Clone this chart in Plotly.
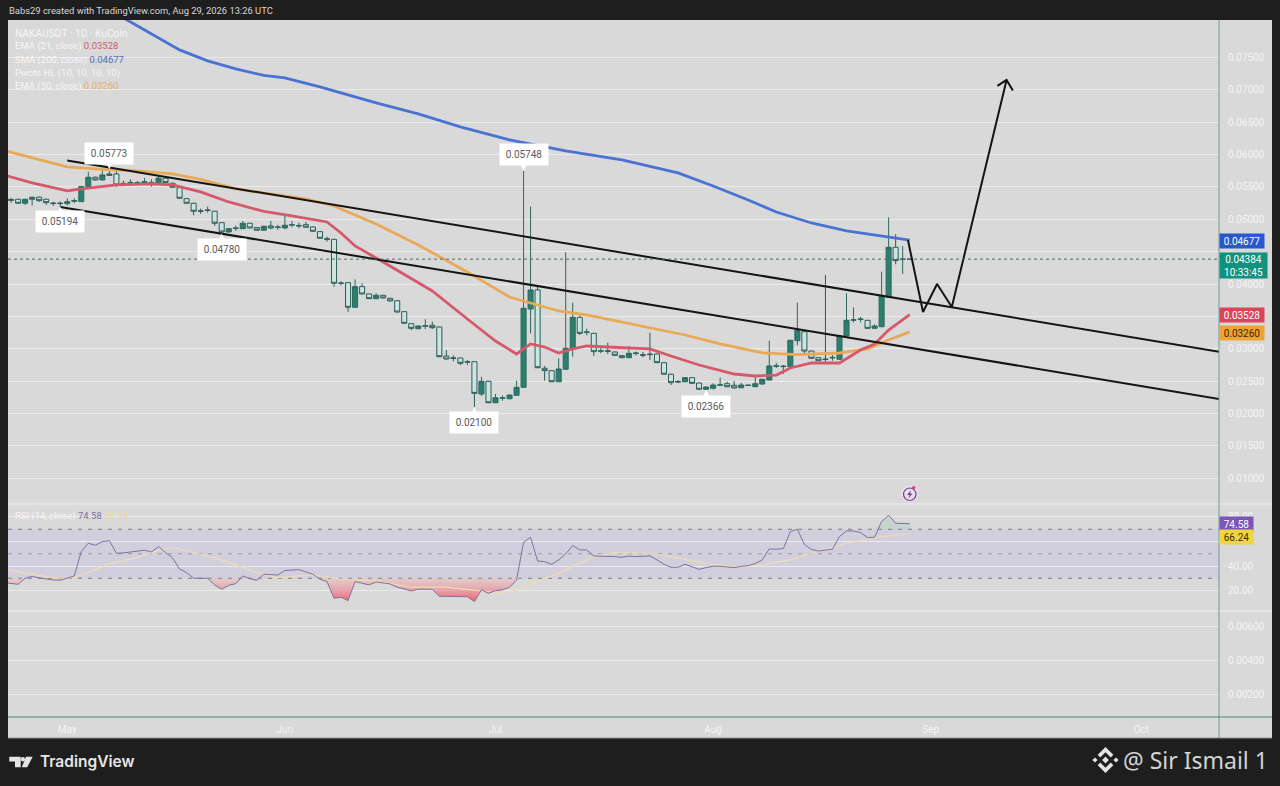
import pandas as pd
import plotly.graph_objects as go

# ---------- data ----------
START_DATE = "2026-04-23"
MONTH_LABELS = ["May", "Jun", "Jul", "Aug", "Sep", "Oct"]
MONTH_DATES = ["2026-05-01", "2026-06-01", "2026-07-01", "2026-08-01", "2026-09-01", "2026-10-01"]

opens = [.05291,.05310,.05248,.05310,.05341,.05310,.05250,.05250,.05242,.05280,
 .05273,.05505,.05650,.05608,.05678,.05701,.05556,.05562,.05560,.05551,
 .05565,.05557,.05635,.05557,.05489,.05319,.05248,.05132,.05136,.05124,
 .04948,.04804,.04857,.04855,.04939,.04871,.04831,.04897,.04875,.04866,
 .04910,.04905,.04917,.04881,.04809,.04700,.04691,.04008,.04021,.03640,
 .03959,.03846,.03773,.03826,.03779,.03742,.03572,.03387,.03309,.03346,
 .03362,.03336,.02887,.02860,.02856,.02792,.02799,.02300,.02496,.02165,
 .02234,.02227,.02280,.02403,.03614,.03908,.02697,.02660,.02490,.02682,
 .02996,.03485,.03250,.03238,.02960,.02968,.02949,.02892,.02861,.02925,
 .02907,.02918,.02918,.02784,.02606,.02493,.02490,.02552,.02470,.02372,
 .02388,.02435,.02459,.02434,.02397,.02432,.02413,.02454,.02516,.02729,
 .02732,.02722,.03124,.03263,.02964,.02861,.02840,.02857,.02837,.03197,
 .03440,.03451,.03439,.03315,.03340,.03799,.04568,.04380,.04381]
closes = [.05307,.05248,.05310,.05341,.05288,.05257,.05245,.05245,.05273,.05289,
 .05505,.05650,.05608,.05686,.05701,.05531,.05553,.05570,.05566,.05582,
 .05570,.05635,.05567,.05495,.05325,.05248,.05124,.05126,.05144,.04939,
 .04804,.04855,.04865,.04939,.04866,.04831,.04892,.04866,.04880,.04908,
 .04916,.04899,.04877,.04815,.04707,.04692,.04011,.04014,.03640,.03959,
 .03846,.03773,.03826,.03784,.03738,.03567,.03393,.03315,.03351,.03355,
 .03325,.02876,.02841,.02852,.02774,.02798,.02310,.02496,.02165,.02243,
 .02242,.02284,.02403,.03625,.03908,.02706,.02660,.02490,.02686,.03006,
 .03485,.03238,.03258,.02954,.02968,.02960,.02898,.02861,.02929,.02933,
 .02899,.02910,.02784,.02606,.02475,.02487,.02552,.02465,.02373,.02408,
 .02439,.02443,.02413,.02393,.02439,.02436,.02459,.02527,.02733,.02737,
 .02724,.03130,.03285,.02964,.02852,.02815,.02834,.02865,.03201,.03439,
 .03448,.03459,.03315,.03351,.03815,.04568,.04361,.04384,.04384]
highs = [.05330,.05318,.05318,.05349,.05349,.05318,.05273,.05273,.05325,.05325,
 .05510,.05736,.05660,.05763,.05773,.05763,.05598,.05619,.05593,.05639,
 .05619,.05670,.05645,.05565,.05495,.05325,.05255,.05165,.05196,.05130,
 .04955,.04862,.04902,.04974,.04945,.04878,.04898,.04974,.04913,.05078,
 .04974,.04948,.04959,.04888,.04815,.04732,.04697,.04042,.04030,.04073,
 .04011,.03852,.03857,.03832,.03785,.03748,.03578,.03393,.03357,.03455,
 .03418,.03342,.02980,.02898,.02862,.02825,.02806,.02567,.02502,.02300,
 .02280,.02290,.02505,.05748,.05196,.03959,.02733,.02666,.02852,.04490,
 .03711,.03506,.03309,.03244,.03031,.03093,.02955,.02898,.03042,.02957,
 .02949,.03247,.02925,.02790,.02612,.02516,.02558,.02558,.02476,.02414,
 .02465,.02552,.02490,.02501,.02475,.02442,.02578,.02533,.03124,.02784,
 .02748,.03136,.03711,.03270,.02970,.02867,.04140,.02903,.03207,.03857,
 .03640,.03495,.03445,.03377,.04191,.05031,.04769,.04588,.04390]
lows = [.05253,.05240,.05222,.05211,.05268,.05222,.05206,.05194,.05211,.05248,
 .05268,.05500,.05600,.05600,.05670,.05500,.05520,.05520,.05531,.05531,
 .05505,.05546,.05560,.05488,.05320,.05240,.05062,.05087,.05103,.04897,
 .04780,.04798,.04820,.04850,.04860,.04825,.04825,.04846,.04835,.04846,
 .04877,.04861,.04870,.04808,.04700,.04654,.03959,.03977,.03572,.03632,
 .03840,.03766,.03766,.03778,.03732,.03560,.03386,.03289,.03302,.03300,
 .03305,.02870,.02835,.02805,.02748,.02748,.02100,.02269,.02158,.02158,
 .02196,.02220,.02274,.02397,.03238,.02700,.02505,.02484,.02484,.02676,
 .02876,.03212,.03207,.02887,.02929,.02918,.02892,.02855,.02855,.02895,
 .02867,.02825,.02778,.02600,.02439,.02470,.02484,.02459,.02366,.02366,
 .02370,.02423,.02407,.02387,.02391,.02426,.02407,.02448,.02510,.02702,
 .02609,.02716,.03053,.02903,.02846,.02809,.02799,.02815,.02831,.03190,
 .03408,.03408,.03309,.03309,.03334,.03793,.04305,.04155,.04380]

sma200_days = [15,20,24,28,32,36,39,44,47,52,58,64,71,79,87,95,100,105,109,114,119,124,128]
sma200_vals = [.08175,.07865,.07618,.07448,.07324,.07224,.07185,.07046,.06953,.06799,.06629,.06428,
               .06227,.06057,.05917,.05716,.05515,.05299,.05113,.04943,.04820,.04742,.04677]
ema50_days = [-1,3,8,13,18,23,27,32,37,42,46,52,58,65,71,73,78,82,89,96,101,107,112,118,122,125,128]
ema50_vals = [.06064,.05948,.05809,.05771,.05747,.05701,.05616,.05469,.05392,.05314,.05206,.04928,.04603,
              .04186,.03799,.03738,.03583,.03521,.03366,.03212,.03073,.02934,.02910,.02934,.02996,.03135,.03260]
ema21_days = [-1,3,8,10,15,20,23,27,31,36,40,45,47,49,53,60,65,69,72,73,74,76,78,80,82,85,91,94,98,103,106,109,111,114,118,121,123,125,128]
ema21_vals = [.05685,.05562,.05438,.05469,.05531,.05546,.05531,.05423,.05268,.05121,.05052,.04959,.04789,
              .04588,.04340,.03892,.03459,.03119,.02918,.02996,.03073,.03026,.02934,.02996,.03042,.03026,
              .02996,.02887,.02748,.02609,.02578,.02593,.02702,.02779,.02779,.02980,.03073,.03289,.03528]

upper_channel_days = [8, 173]
upper_channel_vals = [.05907, .02937]
lower_channel_days = [7, 173]
lower_channel_vals = [.05191, .02207]
arrow_days = [127.75,129.9,131.9,134.0,141.8,140.5,141.8,142.7]
arrow_vals = [.04681,.03568,.04000,.03645,.07154,.07061,.07154,.06989]

rsi_days = [-1,0,1,2,3,4,5,6,7,8,9,10,11,12,13,14,15,16,18,19,20,21,22,23,24,25,26,28,29,30,31,32,33,34,35,36,38,39,41,43,44,45,46,47,48,49,51,52,54,55,57,58,60,61,65,
            66,67,68,69,70,71,72,73,74,75,76,77,78,79,80,81,82,83,84,85,86,87,88,89,90,91,92,93,94,95,96,97,98,99,100,101,102,103,104,105,106,107,108,109,110,
            111,112,113,114,115,116,117,118,119,120,121,122,123,124,125,126,128]
rsi_vals = [26.5,25.9,25.1,30,31.6,30.3,29.2,28.6,28.4,30.3,31.9,51.8,58.6,56.9,59.9,60.7,50.4,50.7,52,52.9,51.5,55.9,51,46.6,37.6,34.6,30,30,24.6,21,24.3,25.6,31.9,29.7,28.4,33.3,32.7,36.3,37.1,33.3,29.2,27.3,13.7,14.5,11.8,27.3,24.6,27,25.4,22.7,19.7,21,21,15.3,15,
            11,20.5,17.8,19.9,20.5,22.7,28.6,59.4,63.5,44.1,43.6,41.4,45,49.9,56.7,53.1,53.1,48.2,48.2,48.2,47.7,47.1,48,47.7,47.7,48.2,45,41.4,39,39,41.4,39.5,37.3,38.7,39.8,39.8,39,38.7,39.8,40.3,42,45,53.9,53.7,54.2,
            68,70,57.5,53.5,52.2,53,53.7,64,68.6,68.6,67.3,63.2,63.5,76.3,81.4,74.9,74.58]
rsi_ma_days = [-1,5,8,10,14,18,21,23,26,30,35,38,43,47,52,57,62,66,70,72,75,78,81,83,86,91,94,99,103,107,111,114,119,124,128]
rsi_ma_vals = [37.5,31.4,29.7,32.7,41.7,47.1,52.6,55.3,51,45,34.6,30.5,32.7,29.2,27.8,22.7,22.7,20,17.8,20.5,27.8,34,42.2,47.7,51,50.4,47.7,42.2,39.5,41,45,50.4,58.6,64,66.24]

price_ticks = [.01,.015,.02,.025,.03,.035,.04,.045,.05,.055,.06,.065,.07,.075]
price_tick_labels = ["0.01000","0.01500","0.02000","0.02500","0.03000","","0.04000","","0.05000","0.05500","0.06000","0.06500","0.07000","0.07500"]
rsi_ticks = [20,40,60,80]
rsi_tick_labels = ["20.00","40.00","","80.00"]
lower_ticks = [.002,.004,.006]
lower_tick_labels = ["0.00200","0.00400","0.00600"]
last_price = 0.04384

pivot_labels = [("0.05773",14,.05773,-16),("0.05194",7,.05194,15),("0.04780",30,.04780,16),
                ("0.05748",73,.05748,-16),("0.02100",66,.02100,16),("0.02366",99,.02366,17)]

# ---------- helpers ----------
base = pd.Timestamp(START_DATE)
def day(v):
    return base + pd.to_timedelta(v, unit="D")
def days(vs):
    return [day(v) for v in vs]
L, R, T, B = 8, 1219, 20, 717
def px(x): return (x - L) / (R - L)
def py(y): return (B - y) / (B - T)
def path(points):
    return "M" + " L".join(f"{px(a):.5f},{py(b):.5f}" for a, b in points) + " Z"

UP, DOWN, EDGE_UP, EDGE_DOWN = "#2b7f6f", "#cbe5e0", "#2d6a5f", "#2c5c55"
FONT = "Roboto"
TICK = "#f4f4f4"
fig = go.Figure()

# RSI fills below 30 and above 70
rsi_x = days(rsi_days)
fig.add_trace(go.Scatter(x=rsi_x, y=[30]*len(rsi_x), yaxis="y2", mode="lines", line=dict(width=0), hoverinfo="skip", showlegend=False))
fig.add_trace(go.Scatter(x=rsi_x, y=[min(v,30) for v in rsi_vals], yaxis="y2", mode="lines", line=dict(width=0), fill="tonexty",
    fillgradient=dict(type="vertical", start=11, stop=30, colorscale=[[0,"rgba(238,95,115,1)"],[1,"rgba(240,170,170,0.3)"]]),
    hoverinfo="skip", showlegend=False))
fig.add_trace(go.Scatter(x=rsi_x, y=[70]*len(rsi_x), yaxis="y2", mode="lines", line=dict(width=0), hoverinfo="skip", showlegend=False))
fig.add_trace(go.Scatter(x=rsi_x, y=[max(v,70) for v in rsi_vals], yaxis="y2", mode="lines", line=dict(width=0), fill="tonexty",
    fillcolor="rgba(140,200,170,0.25)", hoverinfo="skip", showlegend=False))
fig.add_trace(go.Scatter(x=days(rsi_ma_days), y=rsi_ma_vals, yaxis="y2", mode="lines", line=dict(color="#eeddb0", width=1.2), hoverinfo="skip", showlegend=False))
fig.add_trace(go.Scatter(x=rsi_x, y=rsi_vals, yaxis="y2", mode="lines", line=dict(color="#7f719f", width=1), hoverinfo="skip", showlegend=False))
# keeps the bottom pane on screen
fig.add_trace(go.Scatter(x=[day(0)], y=[None], yaxis="y3", mode="lines", hoverinfo="skip", showlegend=False))

# indicator lines under the candles
fig.add_trace(go.Scatter(x=days(ema50_days), y=ema50_vals, mode="lines", line=dict(color="#e9a955", width=2.8), hoverinfo="skip", showlegend=False))
fig.add_trace(go.Scatter(x=days(ema21_days), y=ema21_vals, mode="lines", line=dict(color="#d5596a", width=2.8), hoverinfo="skip", showlegend=False))
fig.add_trace(go.Scatter(x=days(sma200_days), y=sma200_vals, mode="lines", line=dict(color="#4a72d2", width=2.8), hoverinfo="skip", showlegend=False))

fig.add_trace(go.Candlestick(
    x=days(range(len(opens))), open=opens, high=highs, low=lows, close=closes,
    increasing=dict(fillcolor=UP, line=dict(color=EDGE_UP, width=1)),
    decreasing=dict(fillcolor=DOWN, line=dict(color=EDGE_DOWN, width=1)),
    whiskerwidth=0, hoverinfo="skip", showlegend=False))

black = dict(color="#141414", width=2)
fig.add_trace(go.Scatter(x=days(upper_channel_days), y=upper_channel_vals, mode="lines", line=black, hoverinfo="skip", showlegend=False))
fig.add_trace(go.Scatter(x=days(lower_channel_days), y=lower_channel_vals, mode="lines", line=black, hoverinfo="skip", showlegend=False))
fig.add_trace(go.Scatter(x=days(arrow_days), y=arrow_vals, mode="lines", line=black, hoverinfo="skip", showlegend=False))

# ---------- decorations ----------
shapes = []
shapes.append(dict(type="rect", xref="paper", yref="paper", x0=1, x1=px(1272), y0=py(738), y1=1, fillcolor="#d9d9d9", line_width=0, layer="below"))
shapes.append(dict(type="rect", xref="paper", yref="paper", x0=0, x1=1, y0=py(738), y1=0, fillcolor="#d9d9d9", line_width=0, layer="below"))
shapes.append(dict(type="rect", xref="paper", yref="y2", x0=0, x1=1, y0=30, y1=70, fillcolor="#d1cede", line_width=0, layer="below"))
for level, shade in ((30, "#7c7c7c"), (50, "#9a9a9a"), (70, "#7c7c7c")):
    shapes.append(dict(type="line", xref="paper", yref="y2", x0=0, x1=1, y0=level, y1=level, line=dict(color=shade, width=1, dash="4px,6px"), layer="below"))
shapes.append(dict(type="line", xref="paper", yref="y", x0=0, x1=1, y0=last_price, y1=last_price, line=dict(color="#4f6f6a", width=1, dash="dot")))
for yy in (504, 611):
    shapes.append(dict(type="line", xref="paper", yref="paper", x0=0, x1=px(1272), y0=py(yy), y1=py(yy), line=dict(color="#f0f0f0", width=1), layer="below"))
shapes.append(dict(type="line", xref="paper", yref="paper", x0=1, x1=1, y0=py(738), y1=1, line=dict(color="#6d9c97", width=1)))
shapes.append(dict(type="line", xref="paper", yref="paper", x0=0, x1=px(1272), y0=0, y1=0, line=dict(color="#4d8078", width=1)))
shapes.append(dict(type="line", xref="paper", yref="paper", x0=0, x1=px(1272), y0=py(738), y1=py(738), line=dict(color="#8a8a8a", width=1)))

# TradingView mark
logo = "#e4e4e4"
shapes.append(dict(type="path", xref="paper", yref="paper", fillcolor=logo, line_width=0,
                   path=path([(9.3,756.7),(20.7,756.7),(20.7,767.3),(15,767.3),(15,761.5),(9.3,761.5)])))
shapes.append(dict(type="circle", xref="paper", yref="paper", x0=px(20.8), x1=px(25), y0=py(761.4), y1=py(757), fillcolor=logo, line_width=0))
shapes.append(dict(type="path", xref="paper", yref="paper", fillcolor=logo, line_width=0,
                   path=path([(26,756.7),(32.7,756.7),(27.2,767.3),(21.8,767.3)])))
# exchange diamond mark
cx, cy = 1105.5, 760
def mark(pts):
    shapes.append(dict(type="path", xref="paper", yref="paper", fillcolor="#e4e4e4", line_width=0,
                       path=path([(cx + a, cy + b) for a, b in pts])))
mark([(0,-3.4),(3.4,0),(0,3.4),(-3.4,0)])
mark([(-10.5,-2.6),(-7.9,0),(-10.5,2.6),(-13.1,0)])
mark([(10.5,-2.6),(13.1,0),(10.5,2.6),(7.9,0)])
mark([(0,-13),(7.8,-5.2),(5.2,-2.6),(0,-7.8),(-5.2,-2.6),(-7.8,-5.2)])
mark([(0,13),(7.8,5.2),(5.2,2.6),(0,7.8),(-5.2,2.6),(-7.8,5.2)])
# alert icon
shapes.append(dict(type="circle", xref="paper", yref="paper", x0=px(901), x1=px(918), y0=py(502.5), y1=py(485.5), fillcolor="#eadfee", line_width=0))
shapes.append(dict(type="circle", xref="paper", yref="paper", x0=px(903.5), x1=px(916), y0=py(500.5), y1=py(488), fillcolor="#e6e0ea", line=dict(color="#7a3f92", width=1.2)))
shapes.append(dict(type="path", xref="paper", yref="paper", fillcolor="#7a3f92", line_width=0,
                   path=path([(911,490),(907,495),(909.5,495),(908.5,498.5),(912.5,493.5),(910,493.5)])))
shapes.append(dict(type="circle", xref="paper", yref="paper", x0=px(912), x1=px(915.5), y0=py(489.5), y1=py(486), fillcolor="#d8475f", line_width=0))

annotations = []
def text(x, y, s, size=9, color="#f6f6f6", xanchor="left", family=FONT, weight=None):
    f = dict(family=family, size=size, color=color)
    if weight:
        f["weight"] = weight
    annotations.append(dict(xref="paper", yref="paper", x=px(x), y=py(y), text=s, showarrow=False,
                            xanchor=xanchor, yanchor="middle", align="left", font=f, borderpad=0))

text(8, 11, "Babs29 created with TradingView.com, Aug 29, 2026 13:26 UTC", size=9.4, color="#d8d8d8")
text(14, 33, "NAKAUSDT\u00a0·\u00a01D\u00a0·\u00a0KuCoin", size=10.2)
text(14, 46, "EMA (21, close) <span style='color:#c9626c'>0.03528</span>", size=9.5)
text(14, 60, "SMA (200, close) <span style='color:#4f6fb8'>0.04677</span>", size=9.5)
text(14, 73, "Pivots HL (10, 10, 10, 10)", size=9.5)
text(14, 86, "EMA (50, close) <span style='color:#e5b06c'>0.03260</span>", size=9.5)
text(14, 516, "RSI (14, close) <span style='color:#7f719f'>74.58</span> <span style='color:#e8d9a0'>66.24</span>", size=9.5)
text(39, 762, "TradingView", size=15.5, color="#e6e6e6", family="Inter", weight=600)
text(1269, 760, "@ Sir Ismail 1", size=23, color="#d4d4d4", xanchor="right", family="Noto Sans")

def tag(y, s, bg, fg="#ffffff", h=14, w=44):
    annotations.append(dict(xref="paper", yref="paper", x=1, y=py(y), text=s, showarrow=False, xanchor="left", yanchor="middle",
                            bgcolor=bg, width=w, height=h, font=dict(family=FONT, size=10, color=fg), align="center", borderpad=0))
tag(240.5, "0.04677", "#2a57cc")
tag(265, "0.04384<br>10:33:45", "#12917f", h=25, w=47)
tag(315, "0.03528", "#d9455a")
tag(333, "0.03260", "#f0a232", fg="#3a2600")
tag(523.5, "74.58", "#7a56b8", w=33)
tag(537, "66.24", "#f2d43c", fg="#3a3000", w=33)

for label, i, price, off in pivot_labels:
    direction = 1 if off > 0 else -1
    annotations.append(dict(x=day(i), y=price, xref="x", yref="y", text="", showarrow=True, ax=0, ay=direction*8,
                            arrowhead=2, arrowsize=1, arrowwidth=3, arrowcolor="#ffffff", standoff=0))
    annotations.append(dict(x=day(i), y=price, xref="x", yref="y", text=label, showarrow=False, yshift=-off,
                            xanchor="center", yanchor="middle",
                            bgcolor="#ffffff", width=46, height=19, font=dict(family=FONT, size=10, color="#5a5a5a")))

price_bottom, rsi_bottom = py(504), py(611)
axis_font = dict(family=FONT, size=10, color=TICK)
def yaxis(domain, rng, ticks, labels):
    return dict(domain=domain, range=rng, side="right", tickmode="array", tickvals=ticks, ticktext=labels, anchor="x",
                showgrid=True, gridcolor="#ebebeb", gridwidth=1, zeroline=False, showline=False,
                ticks="outside", ticklen=6, tickcolor="rgba(0,0,0,0)", tickfont=axis_font)

fig.update_layout(
    width=1280, height=786, margin=dict(l=L, r=1280-R, t=T, b=786-B, pad=0),
    paper_bgcolor="#1e1e1e", plot_bgcolor="#d9d9d9", showlegend=False, hovermode=False,
    boxgap=0.28, boxgroupgap=0,
    xaxis=dict(type="date", range=[day(-0.44), day(172.06)], anchor="y3", domain=[0, 1],
               tickmode="array", tickvals=MONTH_DATES, ticktext=MONTH_LABELS,
               showgrid=False, zeroline=False, showline=False, ticks="outside", ticklen=3, tickcolor="rgba(0,0,0,0)",
               tickfont=dict(family=FONT, size=10, color=TICK), rangeslider=dict(visible=False)),
    yaxis=yaxis([price_bottom, 1], [.0060, .0808], price_ticks, price_tick_labels),
    yaxis2=yaxis([rsi_bottom, price_bottom], [3.3, 90.6], rsi_ticks, rsi_tick_labels),
    yaxis3=yaxis([0, rsi_bottom], [.00072, .00687], lower_ticks, lower_tick_labels),
    shapes=shapes, annotations=annotations,
)

fig.write_html("out.html", config={"displayModeBar": False},
               post_script="document.body.style.margin='0';document.body.style.background='#1e1e1e';document.documentElement.style.overflow='hidden';")
